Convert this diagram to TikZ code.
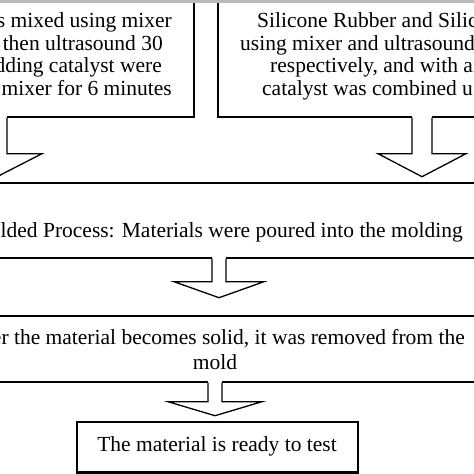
\documentclass[tikz,border=0pt]{standalone}
\usepackage{fontspec}
\setmainfont{Liberation Serif}
\usetikzlibrary{calc}
\tikzset{
  box/.style={draw=black, line width=1.4pt, rectangle, inner sep=0pt},
  txt/.style={inner sep=0pt, font=\fontsize{21.5}{22.7}\selectfont, text=black},
  arrowline/.style={draw=black, line width=1.3pt, line join=miter},
}
% #1 source node, #2 shaft half width, #3 shaft length, #4 head half width, #5 head length
\newcommand\blockarrow[5]{%
  \fill[white] ([xshift=-#2 pt, yshift=2pt]#1.south) rectangle ([xshift=#2 pt, yshift=-2pt]#1.south);
  \draw[arrowline] ([xshift=-#2 pt]#1.south) -- ++(0,#3) -- ++({#2-#4},0)
     -- ++(#4,#5) -- ++(#4,-#5) -- ++({#2-#4},0) -- ++(0,-#3);
}
\begin{document}
\begin{tikzpicture}[x=1pt,y=-1pt]
\useasboundingbox (0,0) rectangle (474,474);
\clip (0,0) rectangle (474,474);
\fill[white] (0,0) rectangle (474,474);

% boxes
\node[box, minimum width=394pt, minimum height=116pt] (b1) at (-3,59) {};
\node[box, minimum width=408pt, minimum height=116pt] (b2) at (422,59) {};
\node[box, minimum width=640pt, minimum height=75pt] (b3) at (219,220.5) {};
\node[box, minimum width=640pt, minimum height=66pt] (b4) at (215,349) {};
\node[box, minimum width=281pt, minimum height=50pt] (b5) at (217.5,447) {};
\draw[black, line width=2.4pt] (b5.south west) -- (b5.south east);

% top gray edge
\fill[gray!55] (0,0) rectangle (474,2.7);

% block arrows
\blockarrow{b1}{10}{36}{45}{23}
\blockarrow{b2}{10}{36}{44}{23}
\blockarrow{b3}{7}{23}{45}{16}
\blockarrow{b4}{7}{19}{47}{14}

% texts of the left top box
\node[txt, anchor=base east] (t1a) at (172,27) {s mixed using mixer};
\node[txt, anchor=base east] (t1b) at (163,50) {then ultrasound 30};
\node[txt, anchor=base east] (t1c) at (162,72) {dding catalyst were};
\node[txt, anchor=base east] (t1d) at (172,95) {mixer for 6 minutes};

% texts of the right top box
\node[txt, anchor=base west] (t2a) at (257,27) {Silicone Rubber and Silic};
\node[txt, anchor=base west] (t2b) at (240,50) {using mixer and ultrasound};
\node[txt, anchor=base west] (t2c) at (270,72) {respectively, and with an};
\node[txt, anchor=base west] (t2d) at (262,95) {catalyst was combined u};

% middle box
\node[txt, anchor=base east] (t3) at (463,237.5) {olded Process: Materials were poured into the molding};

% third box
\node[txt, anchor=base east] (t4a) at (465,344) {er the material becomes solid, it was removed from the};
\node[txt, anchor=base] (t4b) at (215,369) {mold};

% final box
\node[txt, anchor=base] (t5) at (217,451) {The material is ready to test};
\end{tikzpicture}
\end{document}
